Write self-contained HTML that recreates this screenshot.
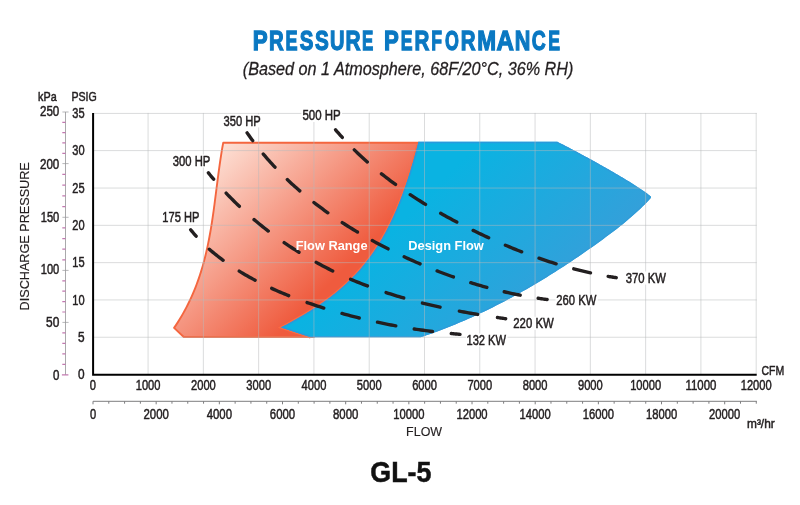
<!DOCTYPE html>
<html><head><meta charset="utf-8"><title>GL-5 Pressure Performance</title>
<style>
html,body{margin:0;padding:0;background:#fff;}
body{width:800px;height:505px;overflow:hidden;}
svg{display:block;}
text{font-family:"Liberation Sans",sans-serif;}
</style></head><body>
<svg width="800" height="505" viewBox="0 0 800 505">
<defs>
<linearGradient id="gr" gradientUnits="userSpaceOnUse" x1="183" y1="183" x2="306.5" y2="306.5">
<stop offset="0" stop-color="#fde1d6"/><stop offset="1" stop-color="#ef5b3e"/>
</linearGradient>
<linearGradient id="gb" gradientUnits="userSpaceOnUse" x1="311" y1="311" x2="424" y2="424">
<stop offset="0" stop-color="#0ab3e2"/><stop offset="1" stop-color="#33a0da"/>
</linearGradient>
<linearGradient id="gbs" gradientUnits="userSpaceOnUse" x1="311" y1="311" x2="424" y2="424">
<stop offset="0" stop-color="#2899dc"/><stop offset="1" stop-color="#319cd8"/>
</linearGradient>
</defs>
<rect width="800" height="505" fill="#ffffff"/>
<path d="M223.20,142.80 L419.00,142.80 L422.50,145.50 L420.97,147.59 L420.19,150.50 L419.39,153.41 L418.59,156.32 L417.76,159.24 L416.93,162.16 L416.07,165.08 L415.20,168.00 L414.32,170.91 L413.41,173.83 L412.49,176.75 L411.55,179.66 L410.59,182.57 L409.61,185.47 L408.60,188.37 L407.58,191.25 L406.53,194.14 L405.46,197.01 L404.37,199.87 L403.25,202.73 L402.10,205.57 L400.93,208.40 L399.73,211.22 L398.51,214.02 L397.25,216.81 L395.97,219.58 L394.66,222.34 L393.31,225.08 L391.94,227.80 L390.54,230.50 L389.10,233.18 L387.63,235.84 L386.12,238.48 L384.58,241.10 L383.00,243.69 L381.39,246.26 L379.75,248.80 L378.06,251.31 L376.34,253.80 L374.57,256.27 L372.77,258.70 L370.93,261.10 L369.05,263.47 L367.13,265.82 L365.18,268.13 L363.19,270.42 L361.16,272.67 L359.10,274.89 L357.00,277.08 L354.87,279.24 L352.70,281.37 L350.50,283.46 L348.27,285.52 L346.01,287.55 L343.72,289.55 L341.39,291.52 L339.04,293.45 L336.66,295.34 L334.25,297.21 L331.81,299.04 L329.35,300.83 L326.86,302.59 L324.35,304.33 L321.82,306.03 L319.27,307.70 L316.70,309.35 L314.11,310.97 L311.50,312.57 L308.89,314.15 L306.26,315.70 L303.62,317.23 L300.97,318.74 L298.32,320.24 L295.66,321.72 L293.00,323.18 L290.33,324.63 L287.66,326.07 L285.00,327.50 L314,337.0 L183.75,337.0 L174.10,327.90 L175.96,325.14 L177.76,322.36 L179.51,319.56 L181.21,316.73 L182.86,313.87 L184.46,311.00 L186.01,308.10 L187.51,305.19 L188.96,302.25 L190.36,299.29 L191.72,296.32 L193.03,293.32 L194.29,290.31 L195.51,287.28 L196.68,284.24 L197.81,281.18 L198.89,278.10 L199.93,275.01 L200.93,271.91 L201.88,268.79 L202.80,265.66 L203.67,262.51 L204.51,259.36 L205.30,256.19 L206.07,253.02 L206.80,249.83 L207.50,246.64 L208.16,243.43 L208.80,240.22 L209.42,237.00 L210.01,233.78 L210.57,230.54 L211.11,227.30 L211.64,224.06 L212.14,220.81 L212.63,217.56 L213.10,214.30 L213.57,211.04 L214.01,207.77 L214.45,204.51 L214.89,201.24 L215.31,197.97 L215.73,194.71 L216.15,191.44 L216.56,188.17 L216.98,184.90 L217.40,181.64 L217.82,178.38 L218.25,175.12 L218.68,171.86 L219.13,168.61 L219.58,165.36 L220.05,162.12 L220.53,158.88 L221.03,155.65 L221.54,152.43 L222.07,149.21 L222.62,146.00 L223.20,142.80 Z" fill="url(#gr)" stroke="#f4663f" stroke-width="1.9" stroke-linejoin="round"/>
<path d="M417.74,144.69 L416.97,147.59 L416.19,150.50 L415.39,153.41 L414.59,156.32 L413.76,159.24 L412.93,162.16 L412.07,165.08 L411.20,168.00 L410.32,170.91 L409.41,173.83 L408.49,176.75 L407.55,179.66 L406.59,182.57 L405.61,185.47 L404.60,188.37 L403.58,191.25 L402.53,194.14 L401.46,197.01 L400.37,199.87 L399.25,202.73 L398.10,205.57 L396.93,208.40 L395.73,211.22 L394.51,214.02 L393.25,216.81 L391.97,219.58 L390.66,222.34 L389.31,225.08 L387.94,227.80 L386.54,230.50 L385.10,233.18 L383.63,235.84 L382.12,238.48 L380.58,241.10 L379.00,243.69 L377.39,246.26 L375.75,248.80 L374.06,251.31 L372.34,253.80 L370.57,256.27 L368.77,258.70 L366.93,261.10 L365.05,263.47 L363.13,265.82 L361.18,268.13 L359.19,270.42 L357.16,272.67 L355.10,274.89 L353.00,277.08 L350.87,279.24 L348.70,281.37 L346.50,283.46 L344.27,285.52 L342.01,287.55 L339.72,289.55 L337.39,291.52 L335.04,293.45 L332.66,295.34 L330.25,297.21 L327.81,299.04 L325.35,300.83 L322.86,302.59 L320.35,304.33 L317.82,306.03 L315.27,307.70 L312.70,309.35 L310.11,310.97 L307.50,312.57 L304.89,314.15 L302.26,315.70 L299.62,317.23 L296.97,318.74 L294.32,320.24 L291.66,321.72 L289.00,323.18 L286.33,324.63 L283.66,326.07 L281.00,327.50 L310.5,337.3" fill="none" stroke="#fb6a43" stroke-width="2.6"/>
<clipPath id="cb"><path d="M418.50,141.80 L557.40,141.80 L559.02,142.63 L560.63,143.45 L562.24,144.28 L563.85,145.11 L565.46,145.95 L567.07,146.78 L568.68,147.62 L570.28,148.46 L571.89,149.30 L573.49,150.15 L575.09,151.00 L576.69,151.85 L578.29,152.70 L579.89,153.55 L581.48,154.41 L583.08,155.27 L584.67,156.13 L586.26,156.99 L587.85,157.86 L589.44,158.73 L591.03,159.60 L592.61,160.47 L594.20,161.35 L595.78,162.23 L597.36,163.11 L598.94,163.99 L600.52,164.88 L602.10,165.77 L603.68,166.66 L605.25,167.56 L606.82,168.45 L608.40,169.36 L609.97,170.26 L611.54,171.16 L613.10,172.07 L614.67,172.99 L616.24,173.90 L617.80,174.82 L619.36,175.74 L620.92,176.66 L622.48,177.59 L624.04,178.52 L625.59,179.46 L627.15,180.40 L628.69,181.34 L630.24,182.29 L631.78,183.25 L633.31,184.21 L634.84,185.19 L636.36,186.16 L637.88,187.15 L639.39,188.14 L640.90,189.15 L642.40,190.16 L643.89,191.18 L645.36,192.21 L646.82,193.28 L648.24,194.40 L649.60,195.60 Q651.00,196.40 651.00,197.20 Q651.00,197.90 649.90,198.90 L649.90,198.90 L647.57,201.42 L645.19,203.89 L642.78,206.31 L640.34,208.70 L637.86,211.04 L635.34,213.35 L632.80,215.62 L630.23,217.86 L627.63,220.07 L625.01,222.25 L622.36,224.40 L619.69,226.53 L617.01,228.63 L614.31,230.72 L611.59,232.78 L608.86,234.83 L606.11,236.87 L603.36,238.89 L600.60,240.90 L597.83,242.91 L595.05,244.90 L592.26,246.89 L589.47,248.86 L586.67,250.83 L583.86,252.78 L581.05,254.73 L578.23,256.66 L575.39,258.58 L572.56,260.49 L569.71,262.39 L566.86,264.28 L564.00,266.16 L561.13,268.02 L558.25,269.87 L555.37,271.71 L552.47,273.54 L549.57,275.36 L546.67,277.16 L543.75,278.95 L540.83,280.72 L537.90,282.48 L534.96,284.23 L532.02,285.96 L529.06,287.68 L526.10,289.39 L523.13,291.08 L520.16,292.75 L517.17,294.42 L514.18,296.06 L511.18,297.69 L508.17,299.31 L505.16,300.90 L502.13,302.49 L499.10,304.05 L496.06,305.60 L493.01,307.14 L489.95,308.65 L486.89,310.15 L483.81,311.63 L480.73,313.10 L477.64,314.54 L474.54,315.97 L471.43,317.38 L468.31,318.77 L465.19,320.15 L462.05,321.50 L458.91,322.84 L455.76,324.15 L452.60,325.45 L449.43,326.73 L446.25,327.98 L443.07,329.22 L439.87,330.44 L436.66,331.63 L433.45,332.81 L430.23,333.96 L426.99,335.10 L423.75,336.21 L420.50,337.30 L310.5,337.3 L281.00,327.50 L283.66,326.07 L286.33,324.63 L289.00,323.18 L291.66,321.72 L294.32,320.24 L296.97,318.74 L299.62,317.23 L302.26,315.70 L304.89,314.15 L307.50,312.57 L310.11,310.97 L312.70,309.35 L315.27,307.70 L317.82,306.03 L320.35,304.33 L322.86,302.59 L325.35,300.83 L327.81,299.04 L330.25,297.21 L332.66,295.34 L335.04,293.45 L337.39,291.52 L339.72,289.55 L342.01,287.55 L344.27,285.52 L346.50,283.46 L348.70,281.37 L350.87,279.24 L353.00,277.08 L355.10,274.89 L357.16,272.67 L359.19,270.42 L361.18,268.13 L363.13,265.82 L365.05,263.47 L366.93,261.10 L368.77,258.70 L370.57,256.27 L372.34,253.80 L374.06,251.31 L375.75,248.80 L377.39,246.26 L379.00,243.69 L380.58,241.10 L382.12,238.48 L383.63,235.84 L385.10,233.18 L386.54,230.50 L387.94,227.80 L389.31,225.08 L390.66,222.34 L391.97,219.58 L393.25,216.81 L394.51,214.02 L395.73,211.22 L396.93,208.40 L398.10,205.57 L399.25,202.73 L400.37,199.87 L401.46,197.01 L402.53,194.14 L403.58,191.25 L404.60,188.37 L405.61,185.47 L406.59,182.57 L407.55,179.66 L408.49,176.75 L409.41,173.83 L410.32,170.91 L411.20,168.00 L412.07,165.08 L412.93,162.16 L413.76,159.24 L414.59,156.32 L415.39,153.41 L416.19,150.50 L416.97,147.59 L417.74,144.69 L418.50,141.80 Z"/></clipPath>
<path d="M418.50,141.80 L557.40,141.80 L559.02,142.63 L560.63,143.45 L562.24,144.28 L563.85,145.11 L565.46,145.95 L567.07,146.78 L568.68,147.62 L570.28,148.46 L571.89,149.30 L573.49,150.15 L575.09,151.00 L576.69,151.85 L578.29,152.70 L579.89,153.55 L581.48,154.41 L583.08,155.27 L584.67,156.13 L586.26,156.99 L587.85,157.86 L589.44,158.73 L591.03,159.60 L592.61,160.47 L594.20,161.35 L595.78,162.23 L597.36,163.11 L598.94,163.99 L600.52,164.88 L602.10,165.77 L603.68,166.66 L605.25,167.56 L606.82,168.45 L608.40,169.36 L609.97,170.26 L611.54,171.16 L613.10,172.07 L614.67,172.99 L616.24,173.90 L617.80,174.82 L619.36,175.74 L620.92,176.66 L622.48,177.59 L624.04,178.52 L625.59,179.46 L627.15,180.40 L628.69,181.34 L630.24,182.29 L631.78,183.25 L633.31,184.21 L634.84,185.19 L636.36,186.16 L637.88,187.15 L639.39,188.14 L640.90,189.15 L642.40,190.16 L643.89,191.18 L645.36,192.21 L646.82,193.28 L648.24,194.40 L649.60,195.60 Q651.00,196.40 651.00,197.20 Q651.00,197.90 649.90,198.90 L649.90,198.90 L647.57,201.42 L645.19,203.89 L642.78,206.31 L640.34,208.70 L637.86,211.04 L635.34,213.35 L632.80,215.62 L630.23,217.86 L627.63,220.07 L625.01,222.25 L622.36,224.40 L619.69,226.53 L617.01,228.63 L614.31,230.72 L611.59,232.78 L608.86,234.83 L606.11,236.87 L603.36,238.89 L600.60,240.90 L597.83,242.91 L595.05,244.90 L592.26,246.89 L589.47,248.86 L586.67,250.83 L583.86,252.78 L581.05,254.73 L578.23,256.66 L575.39,258.58 L572.56,260.49 L569.71,262.39 L566.86,264.28 L564.00,266.16 L561.13,268.02 L558.25,269.87 L555.37,271.71 L552.47,273.54 L549.57,275.36 L546.67,277.16 L543.75,278.95 L540.83,280.72 L537.90,282.48 L534.96,284.23 L532.02,285.96 L529.06,287.68 L526.10,289.39 L523.13,291.08 L520.16,292.75 L517.17,294.42 L514.18,296.06 L511.18,297.69 L508.17,299.31 L505.16,300.90 L502.13,302.49 L499.10,304.05 L496.06,305.60 L493.01,307.14 L489.95,308.65 L486.89,310.15 L483.81,311.63 L480.73,313.10 L477.64,314.54 L474.54,315.97 L471.43,317.38 L468.31,318.77 L465.19,320.15 L462.05,321.50 L458.91,322.84 L455.76,324.15 L452.60,325.45 L449.43,326.73 L446.25,327.98 L443.07,329.22 L439.87,330.44 L436.66,331.63 L433.45,332.81 L430.23,333.96 L426.99,335.10 L423.75,336.21 L420.50,337.30 L310.5,337.3 L281.00,327.50 L283.66,326.07 L286.33,324.63 L289.00,323.18 L291.66,321.72 L294.32,320.24 L296.97,318.74 L299.62,317.23 L302.26,315.70 L304.89,314.15 L307.50,312.57 L310.11,310.97 L312.70,309.35 L315.27,307.70 L317.82,306.03 L320.35,304.33 L322.86,302.59 L325.35,300.83 L327.81,299.04 L330.25,297.21 L332.66,295.34 L335.04,293.45 L337.39,291.52 L339.72,289.55 L342.01,287.55 L344.27,285.52 L346.50,283.46 L348.70,281.37 L350.87,279.24 L353.00,277.08 L355.10,274.89 L357.16,272.67 L359.19,270.42 L361.18,268.13 L363.13,265.82 L365.05,263.47 L366.93,261.10 L368.77,258.70 L370.57,256.27 L372.34,253.80 L374.06,251.31 L375.75,248.80 L377.39,246.26 L379.00,243.69 L380.58,241.10 L382.12,238.48 L383.63,235.84 L385.10,233.18 L386.54,230.50 L387.94,227.80 L389.31,225.08 L390.66,222.34 L391.97,219.58 L393.25,216.81 L394.51,214.02 L395.73,211.22 L396.93,208.40 L398.10,205.57 L399.25,202.73 L400.37,199.87 L401.46,197.01 L402.53,194.14 L403.58,191.25 L404.60,188.37 L405.61,185.47 L406.59,182.57 L407.55,179.66 L408.49,176.75 L409.41,173.83 L410.32,170.91 L411.20,168.00 L412.07,165.08 L412.93,162.16 L413.76,159.24 L414.59,156.32 L415.39,153.41 L416.19,150.50 L416.97,147.59 L417.74,144.69 L418.50,141.80 Z" fill="url(#gb)"/>
<path d="M418.50,141.80 L557.40,141.80 L559.02,142.63 L560.63,143.45 L562.24,144.28 L563.85,145.11 L565.46,145.95 L567.07,146.78 L568.68,147.62 L570.28,148.46 L571.89,149.30 L573.49,150.15 L575.09,151.00 L576.69,151.85 L578.29,152.70 L579.89,153.55 L581.48,154.41 L583.08,155.27 L584.67,156.13 L586.26,156.99 L587.85,157.86 L589.44,158.73 L591.03,159.60 L592.61,160.47 L594.20,161.35 L595.78,162.23 L597.36,163.11 L598.94,163.99 L600.52,164.88 L602.10,165.77 L603.68,166.66 L605.25,167.56 L606.82,168.45 L608.40,169.36 L609.97,170.26 L611.54,171.16 L613.10,172.07 L614.67,172.99 L616.24,173.90 L617.80,174.82 L619.36,175.74 L620.92,176.66 L622.48,177.59 L624.04,178.52 L625.59,179.46 L627.15,180.40 L628.69,181.34 L630.24,182.29 L631.78,183.25 L633.31,184.21 L634.84,185.19 L636.36,186.16 L637.88,187.15 L639.39,188.14 L640.90,189.15 L642.40,190.16 L643.89,191.18 L645.36,192.21 L646.82,193.28 L648.24,194.40 L649.60,195.60 Q651.00,196.40 651.00,197.20 Q651.00,197.90 649.90,198.90 L649.90,198.90 L647.57,201.42 L645.19,203.89 L642.78,206.31 L640.34,208.70 L637.86,211.04 L635.34,213.35 L632.80,215.62 L630.23,217.86 L627.63,220.07 L625.01,222.25 L622.36,224.40 L619.69,226.53 L617.01,228.63 L614.31,230.72 L611.59,232.78 L608.86,234.83 L606.11,236.87 L603.36,238.89 L600.60,240.90 L597.83,242.91 L595.05,244.90 L592.26,246.89 L589.47,248.86 L586.67,250.83 L583.86,252.78 L581.05,254.73 L578.23,256.66 L575.39,258.58 L572.56,260.49 L569.71,262.39 L566.86,264.28 L564.00,266.16 L561.13,268.02 L558.25,269.87 L555.37,271.71 L552.47,273.54 L549.57,275.36 L546.67,277.16 L543.75,278.95 L540.83,280.72 L537.90,282.48 L534.96,284.23 L532.02,285.96 L529.06,287.68 L526.10,289.39 L523.13,291.08 L520.16,292.75 L517.17,294.42 L514.18,296.06 L511.18,297.69 L508.17,299.31 L505.16,300.90 L502.13,302.49 L499.10,304.05 L496.06,305.60 L493.01,307.14 L489.95,308.65 L486.89,310.15 L483.81,311.63 L480.73,313.10 L477.64,314.54 L474.54,315.97 L471.43,317.38 L468.31,318.77 L465.19,320.15 L462.05,321.50 L458.91,322.84 L455.76,324.15 L452.60,325.45 L449.43,326.73 L446.25,327.98 L443.07,329.22 L439.87,330.44 L436.66,331.63 L433.45,332.81 L430.23,333.96 L426.99,335.10 L423.75,336.21 L420.50,337.30 L310.5,337.3 L281.00,327.50 L283.66,326.07 L286.33,324.63 L289.00,323.18 L291.66,321.72 L294.32,320.24 L296.97,318.74 L299.62,317.23 L302.26,315.70 L304.89,314.15 L307.50,312.57 L310.11,310.97 L312.70,309.35 L315.27,307.70 L317.82,306.03 L320.35,304.33 L322.86,302.59 L325.35,300.83 L327.81,299.04 L330.25,297.21 L332.66,295.34 L335.04,293.45 L337.39,291.52 L339.72,289.55 L342.01,287.55 L344.27,285.52 L346.50,283.46 L348.70,281.37 L350.87,279.24 L353.00,277.08 L355.10,274.89 L357.16,272.67 L359.19,270.42 L361.18,268.13 L363.13,265.82 L365.05,263.47 L366.93,261.10 L368.77,258.70 L370.57,256.27 L372.34,253.80 L374.06,251.31 L375.75,248.80 L377.39,246.26 L379.00,243.69 L380.58,241.10 L382.12,238.48 L383.63,235.84 L385.10,233.18 L386.54,230.50 L387.94,227.80 L389.31,225.08 L390.66,222.34 L391.97,219.58 L393.25,216.81 L394.51,214.02 L395.73,211.22 L396.93,208.40 L398.10,205.57 L399.25,202.73 L400.37,199.87 L401.46,197.01 L402.53,194.14 L403.58,191.25 L404.60,188.37 L405.61,185.47 L406.59,182.57 L407.55,179.66 L408.49,176.75 L409.41,173.83 L410.32,170.91 L411.20,168.00 L412.07,165.08 L412.93,162.16 L413.76,159.24 L414.59,156.32 L415.39,153.41 L416.19,150.50 L416.97,147.59 L417.74,144.69 L418.50,141.80 Z" fill="none" stroke="url(#gbs)" stroke-width="2.8" clip-path="url(#cb)"/>
<path d="M148.08,112.95 V374.55 M203.37,112.95 V374.55 M258.65,112.95 V374.55 M313.93,112.95 V374.55 M369.22,112.95 V374.55 M424.50,112.95 V374.55 M479.78,112.95 V374.55 M535.07,112.95 V374.55 M590.35,112.95 V374.55 M645.63,112.95 V374.55 M700.92,112.95 V374.55 M756.20,112.95 V374.55 M92.80,337.25 H756.70 M92.80,299.95 H756.70 M92.80,262.65 H756.70 M92.80,225.35 H756.70 M92.80,188.05 H756.70 M92.80,150.60 H756.70 M92.80,113.45 H756.70 " stroke="#b8babc" stroke-opacity="0.5" stroke-width="1" fill="none"/>
<path d="M93.1,113 V375.7 M92.1,374.7 H756.7" stroke="#000" stroke-width="2" fill="none"/>
<path d="M190.70,229.79 L191.36,230.60 L192.02,231.41 L192.69,232.21 L193.36,233.00 L194.04,233.79 L194.73,234.57 L195.41,235.35 L196.11,236.12 M209.36,249.21 L211.02,250.66 L212.69,252.10 L214.39,253.51 L216.10,254.90 L217.82,256.28 L219.56,257.63 L221.32,258.97 L223.09,260.29 M239.24,271.15 L241.19,272.34 L243.14,273.51 L245.11,274.66 L247.09,275.80 L249.07,276.92 L251.07,278.03 L253.07,279.12 L255.09,280.19 M271.70,288.37 L273.80,289.33 L275.90,290.27 L278.01,291.19 L280.12,292.11 L282.24,293.01 L284.37,293.89 L286.50,294.77 L288.64,295.63 M307.08,302.54 L309.15,303.26 L311.23,303.97 L313.31,304.67 L315.39,305.36 L317.48,306.05 L319.56,306.72 L321.66,307.39 L323.75,308.05 M342.04,313.47 L344.18,314.06 L346.32,314.64 L348.47,315.22 L350.61,315.79 L352.76,316.35 L354.91,316.90 L357.06,317.44 L359.21,317.98 M377.52,322.21 L379.79,322.70 L382.07,323.18 L384.35,323.64 L386.63,324.10 L388.91,324.55 L391.20,325.00 L393.48,325.43 L395.77,325.86 M414.24,328.97 L416.52,329.32 L418.80,329.66 L421.07,329.98 L423.35,330.30 L425.63,330.62 L427.92,330.92 L430.20,331.22 L432.48,331.50 M451.25,333.55 L452.34,333.66 L453.43,333.76 L454.53,333.86 L455.62,333.95 L456.71,334.05 L457.81,334.14 L458.90,334.23 L459.99,334.32 M208.41,172.90 L209.05,173.69 L209.69,174.48 L210.34,175.26 L210.99,176.05 L211.64,176.83 L212.29,177.61 L212.95,178.38 L213.61,179.16 M226.14,193.11 L227.75,194.80 L229.38,196.49 L231.01,198.16 L232.66,199.82 L234.32,201.47 L235.99,203.10 L237.67,204.73 L239.35,206.34 M254.08,219.58 L255.82,221.05 L257.58,222.52 L259.34,223.97 L261.11,225.41 L262.89,226.83 L264.67,228.25 L266.47,229.66 L268.27,231.05 M284.17,242.61 L286.00,243.86 L287.83,245.09 L289.66,246.32 L291.51,247.53 L293.36,248.73 L295.22,249.92 L297.08,251.10 L298.96,252.27 M316.23,262.38 L318.26,263.49 L320.30,264.59 L322.35,265.68 L324.40,266.76 L326.46,267.82 L328.53,268.87 L330.60,269.91 L332.68,270.94 M350.64,279.19 L352.72,280.08 L354.81,280.95 L356.90,281.81 L359.00,282.67 L361.10,283.51 L363.20,284.34 L365.31,285.15 L367.43,285.96 M386.09,292.55 L388.28,293.27 L390.47,293.97 L392.67,294.67 L394.87,295.35 L397.07,296.03 L399.28,296.69 L401.49,297.34 L403.71,297.99 M422.43,303.04 L424.62,303.59 L426.82,304.13 L429.03,304.66 L431.23,305.18 L433.43,305.70 L435.64,306.21 L437.85,306.71 L440.06,307.20 M459.35,311.16 L461.63,311.60 L463.92,312.02 L466.20,312.44 L468.49,312.86 L470.77,313.26 L473.06,313.66 L475.34,314.05 L477.63,314.44 M497.47,317.54 L498.49,317.69 L499.52,317.84 L500.55,317.98 L501.57,318.13 L502.60,318.27 L503.62,318.42 L504.65,318.56 L505.67,318.70 M247.11,132.85 L247.79,133.84 L248.47,134.81 L249.16,135.79 L249.86,136.76 L250.55,137.72 L251.25,138.69 L251.96,139.65 L252.67,140.60 M263.28,154.04 L264.70,155.72 L266.13,157.39 L267.58,159.05 L269.03,160.70 L270.50,162.33 L271.98,163.96 L273.47,165.57 L274.97,167.18 M287.30,179.57 L288.83,181.02 L290.37,182.45 L291.92,183.88 L293.47,185.30 L295.04,186.71 L296.61,188.10 L298.19,189.49 L299.78,190.87 M313.95,202.48 L315.66,203.80 L317.38,205.11 L319.10,206.41 L320.83,207.70 L322.57,208.99 L324.31,210.26 L326.06,211.53 L327.82,212.78 M342.26,222.59 L344.13,223.80 L346.02,225.00 L347.91,226.20 L349.80,227.38 L351.70,228.56 L353.61,229.73 L355.52,230.89 L357.44,232.04 M372.33,240.56 L374.28,241.63 L376.23,242.69 L378.18,243.74 L380.14,244.78 L382.10,245.81 L384.07,246.84 L386.04,247.85 L388.02,248.86 M404.21,256.78 L406.18,257.70 L408.15,258.62 L410.13,259.52 L412.11,260.42 L414.10,261.31 L416.09,262.19 L418.08,263.06 L420.07,263.92 M437.13,270.93 L439.16,271.72 L441.19,272.49 L443.22,273.26 L445.25,274.02 L447.28,274.77 L449.32,275.51 L451.37,276.24 L453.41,276.97 M470.82,282.73 L472.82,283.34 L474.81,283.95 L476.82,284.55 L478.82,285.14 L480.83,285.72 L482.84,286.29 L484.85,286.85 L486.86,287.40 M504.24,291.78 L506.23,292.23 L508.22,292.68 L510.21,293.12 L512.21,293.55 L514.21,293.97 L516.21,294.38 L518.21,294.78 L520.21,295.17 M538.17,298.26 L539.28,298.42 L540.40,298.59 L541.52,298.75 L542.63,298.91 L543.75,299.06 L544.87,299.21 L545.99,299.36 L547.11,299.51 M335.60,129.90 L336.42,130.85 L337.25,131.80 L338.07,132.74 L338.90,133.68 L339.74,134.62 L340.58,135.55 L341.42,136.48 L342.26,137.41 M354.30,149.85 L355.90,151.40 L357.50,152.94 L359.11,154.47 L360.73,155.98 L362.36,157.49 L364.00,158.98 L365.65,160.46 L367.31,161.94 M381.50,173.81 L383.22,175.18 L384.95,176.53 L386.69,177.87 L388.44,179.21 L390.20,180.53 L391.96,181.85 L393.73,183.16 L395.51,184.45 M410.23,194.67 L412.12,195.92 L414.01,197.15 L415.92,198.38 L417.82,199.60 L419.74,200.81 L421.65,202.02 L423.58,203.21 L425.51,204.40 M440.70,213.32 L442.69,214.45 L444.69,215.56 L446.69,216.67 L448.70,217.76 L450.70,218.85 L452.72,219.94 L454.74,221.01 L456.76,222.08 M473.12,230.40 L475.05,231.34 L476.98,232.28 L478.92,233.21 L480.86,234.14 L482.80,235.06 L484.74,235.97 L486.69,236.88 L488.63,237.78 M505.39,245.20 L507.41,246.05 L509.43,246.90 L511.46,247.74 L513.49,248.57 L515.52,249.39 L517.56,250.21 L519.60,251.01 L521.64,251.81 M538.99,258.21 L541.12,258.94 L543.25,259.67 L545.39,260.38 L547.52,261.09 L549.66,261.79 L551.81,262.47 L553.95,263.15 L556.10,263.81 M573.77,268.85 L575.84,269.39 L577.93,269.92 L580.01,270.44 L582.10,270.95 L584.19,271.45 L586.28,271.94 L588.38,272.42 L590.48,272.89 M608.19,276.37 L609.19,276.55 L610.20,276.72 L611.20,276.88 L612.20,277.05 L613.21,277.21 L614.21,277.37 L615.21,277.52 L616.22,277.68 " stroke="#231f20" stroke-width="3.4" stroke-linecap="round" fill="none"/>
<path d="M65.5,112 V374.85" stroke="#a9a9ab" stroke-width="1" fill="none"/>
<path d="M62.4,322.40 H68.6 M62.4,270.40 H68.6 M62.4,217.30 H68.6 M62.4,163.60 H68.6 M62.4,112.00 H68.6 " stroke="#9a9a9c" stroke-width="0.7" fill="none"/>
<path d="M62.3,364.36 H65.5 M62.3,353.87 H65.5 M62.3,343.38 H65.5 M62.3,332.89 H65.5 M62.3,312.00 H65.5 M62.3,301.60 H65.5 M62.3,291.20 H65.5 M62.3,280.80 H65.5 M62.3,259.78 H65.5 M62.3,249.16 H65.5 M62.3,238.54 H65.5 M62.3,227.92 H65.5 M62.3,206.56 H65.5 M62.3,195.82 H65.5 M62.3,185.08 H65.5 M62.3,174.34 H65.5 M62.3,153.28 H65.5 M62.3,142.96 H65.5 M62.3,132.64 H65.5 M62.3,122.32 H65.5  M61.9,374.85 H68.4" stroke="#c279b0" stroke-width="1.2" fill="none"/>
<path d="M93,401.3 H756.9" stroke="#7d7d7f" stroke-width="1" fill="none"/>
<path d="M93.00,401.3 v3.0 M108.79,401.3 v2.4 M124.59,401.3 v2.4 M140.38,401.3 v2.4 M156.17,401.3 v3.0 M171.96,401.3 v2.4 M187.75,401.3 v2.4 M203.55,401.3 v2.4 M219.34,401.3 v3.0 M235.13,401.3 v2.4 M250.93,401.3 v2.4 M266.72,401.3 v2.4 M282.51,401.3 v3.0 M298.30,401.3 v2.4 M314.10,401.3 v2.4 M329.89,401.3 v2.4 M345.68,401.3 v3.0 M361.47,401.3 v2.4 M377.26,401.3 v2.4 M393.06,401.3 v2.4 M408.85,401.3 v3.0 M424.64,401.3 v2.4 M440.44,401.3 v2.4 M456.23,401.3 v2.4 M472.02,401.3 v3.0 M487.81,401.3 v2.4 M503.61,401.3 v2.4 M519.40,401.3 v2.4 M535.19,401.3 v3.0 M550.98,401.3 v2.4 M566.77,401.3 v2.4 M582.57,401.3 v2.4 M598.36,401.3 v3.0 M614.15,401.3 v2.4 M629.95,401.3 v2.4 M645.74,401.3 v2.4 M661.53,401.3 v3.0 M677.32,401.3 v2.4 M693.12,401.3 v2.4 M708.91,401.3 v2.4 M724.70,401.3 v3.0 M740.49,401.3 v2.4 M756.28,401.3 v2.4 " stroke="#7d7d7f" stroke-width="1" fill="none"/>
<text y="50.2" font-size="27.7" font-weight="bold" fill="#0a78c2" stroke="#0a78c2" stroke-width="1.3" stroke-linejoin="miter"><tspan x="252.80" textLength="14.91" lengthAdjust="spacingAndGlyphs">P</tspan><tspan x="268.94" textLength="14.68" lengthAdjust="spacingAndGlyphs">R</tspan><tspan x="285.59" textLength="12.07" lengthAdjust="spacingAndGlyphs">E</tspan><tspan x="299.71" textLength="13.64" lengthAdjust="spacingAndGlyphs">S</tspan><tspan x="314.95" textLength="13.80" lengthAdjust="spacingAndGlyphs">S</tspan><tspan x="329.95" textLength="14.48" lengthAdjust="spacingAndGlyphs">U</tspan><tspan x="345.40" textLength="15.07" lengthAdjust="spacingAndGlyphs">R</tspan><tspan x="361.92" textLength="11.29" lengthAdjust="spacingAndGlyphs">E</tspan><tspan x="374.5" textLength="8" lengthAdjust="spacingAndGlyphs"> </tspan><tspan x="383.92" textLength="14.79" lengthAdjust="spacingAndGlyphs">P</tspan><tspan x="400.87" textLength="11.77" lengthAdjust="spacingAndGlyphs">E</tspan><tspan x="414.42" textLength="14.85" lengthAdjust="spacingAndGlyphs">R</tspan><tspan x="431.28" textLength="10.72" lengthAdjust="spacingAndGlyphs">F</tspan><tspan x="445.07" textLength="13.88" lengthAdjust="spacingAndGlyphs">O</tspan><tspan x="460.68" textLength="14.79" lengthAdjust="spacingAndGlyphs">R</tspan><tspan x="477.14" textLength="18.82" lengthAdjust="spacingAndGlyphs">M</tspan><tspan x="496.45" textLength="17.38" lengthAdjust="spacingAndGlyphs">A</tspan><tspan x="514.70" textLength="15.60" lengthAdjust="spacingAndGlyphs">N</tspan><tspan x="531.66" textLength="13.92" lengthAdjust="spacingAndGlyphs">C</tspan><tspan x="548.37" textLength="11.77" lengthAdjust="spacingAndGlyphs">E</tspan></text>
<text x="242.80" y="75.30" font-size="19.00" font-weight="normal" font-style="italic" fill="#231f20" textLength="330.50" lengthAdjust="spacingAndGlyphs" stroke="#231f20" stroke-width="0.3">(Based on 1 Atmosphere, 68F/20°C, 36% RH)</text>
<text x="38.10" y="101.40" font-size="12.90" font-weight="normal" font-style="normal" fill="#231f20" textLength="18.60" lengthAdjust="spacingAndGlyphs" stroke="#231f20" stroke-width="0.5">kPa</text>
<text x="71.40" y="101.00" font-size="13.20" font-weight="normal" font-style="normal" fill="#231f20" textLength="25.35" lengthAdjust="spacingAndGlyphs" stroke="#231f20" stroke-width="0.5">PSIG</text>
<text x="39.95" y="116.00" font-size="14.00" font-weight="normal" font-style="normal" fill="#231f20" textLength="19.35" lengthAdjust="spacingAndGlyphs" stroke="#231f20" stroke-width="0.5">250</text>
<text x="39.95" y="169.17" font-size="14.00" font-weight="normal" font-style="normal" fill="#231f20" textLength="19.35" lengthAdjust="spacingAndGlyphs" stroke="#231f20" stroke-width="0.5">200</text>
<text x="40.70" y="221.74" font-size="14.00" font-weight="normal" font-style="normal" fill="#231f20" textLength="18.60" lengthAdjust="spacingAndGlyphs" stroke="#231f20" stroke-width="0.5">150</text>
<text x="40.70" y="274.31" font-size="14.00" font-weight="normal" font-style="normal" fill="#231f20" textLength="18.60" lengthAdjust="spacingAndGlyphs" stroke="#231f20" stroke-width="0.5">100</text>
<text x="46.00" y="326.88" font-size="14.00" font-weight="normal" font-style="normal" fill="#231f20" textLength="13.30" lengthAdjust="spacingAndGlyphs" stroke="#231f20" stroke-width="0.5">50</text>
<text x="52.90" y="379.80" font-size="14.00" font-weight="normal" font-style="normal" fill="#231f20" textLength="6.40" lengthAdjust="spacingAndGlyphs" stroke="#231f20" stroke-width="0.5">0</text>
<text x="78.00" y="379.40" font-size="14.00" font-weight="normal" font-style="normal" fill="#231f20" textLength="6.60" lengthAdjust="spacingAndGlyphs" stroke="#231f20" stroke-width="0.5">0</text>
<text x="78.00" y="342.03" font-size="14.00" font-weight="normal" font-style="normal" fill="#231f20" textLength="6.60" lengthAdjust="spacingAndGlyphs" stroke="#231f20" stroke-width="0.5">5</text>
<text x="72.30" y="304.66" font-size="14.00" font-weight="normal" font-style="normal" fill="#231f20" textLength="12.30" lengthAdjust="spacingAndGlyphs" stroke="#231f20" stroke-width="0.5">10</text>
<text x="72.30" y="267.29" font-size="14.00" font-weight="normal" font-style="normal" fill="#231f20" textLength="12.30" lengthAdjust="spacingAndGlyphs" stroke="#231f20" stroke-width="0.5">15</text>
<text x="72.30" y="229.91" font-size="14.00" font-weight="normal" font-style="normal" fill="#231f20" textLength="12.30" lengthAdjust="spacingAndGlyphs" stroke="#231f20" stroke-width="0.5">20</text>
<text x="72.30" y="192.54" font-size="14.00" font-weight="normal" font-style="normal" fill="#231f20" textLength="12.30" lengthAdjust="spacingAndGlyphs" stroke="#231f20" stroke-width="0.5">25</text>
<text x="72.30" y="155.17" font-size="14.00" font-weight="normal" font-style="normal" fill="#231f20" textLength="12.30" lengthAdjust="spacingAndGlyphs" stroke="#231f20" stroke-width="0.5">30</text>
<text x="72.30" y="117.80" font-size="14.00" font-weight="normal" font-style="normal" fill="#231f20" textLength="12.30" lengthAdjust="spacingAndGlyphs" stroke="#231f20" stroke-width="0.5">35</text>
<text x="89.75" y="390.00" font-size="14.00" font-weight="normal" font-style="normal" fill="#231f20" textLength="6.20" lengthAdjust="spacingAndGlyphs" stroke="#231f20" stroke-width="0.5">0</text>
<text x="135.73" y="390.00" font-size="14.00" font-weight="normal" font-style="normal" fill="#231f20" textLength="24.80" lengthAdjust="spacingAndGlyphs" stroke="#231f20" stroke-width="0.5">1000</text>
<text x="191.01" y="390.00" font-size="14.00" font-weight="normal" font-style="normal" fill="#231f20" textLength="24.80" lengthAdjust="spacingAndGlyphs" stroke="#231f20" stroke-width="0.5">2000</text>
<text x="246.29" y="390.00" font-size="14.00" font-weight="normal" font-style="normal" fill="#231f20" textLength="24.80" lengthAdjust="spacingAndGlyphs" stroke="#231f20" stroke-width="0.5">3000</text>
<text x="301.57" y="390.00" font-size="14.00" font-weight="normal" font-style="normal" fill="#231f20" textLength="24.80" lengthAdjust="spacingAndGlyphs" stroke="#231f20" stroke-width="0.5">4000</text>
<text x="356.85" y="390.00" font-size="14.00" font-weight="normal" font-style="normal" fill="#231f20" textLength="24.80" lengthAdjust="spacingAndGlyphs" stroke="#231f20" stroke-width="0.5">5000</text>
<text x="412.13" y="390.00" font-size="14.00" font-weight="normal" font-style="normal" fill="#231f20" textLength="24.80" lengthAdjust="spacingAndGlyphs" stroke="#231f20" stroke-width="0.5">6000</text>
<text x="467.41" y="390.00" font-size="14.00" font-weight="normal" font-style="normal" fill="#231f20" textLength="24.80" lengthAdjust="spacingAndGlyphs" stroke="#231f20" stroke-width="0.5">7000</text>
<text x="522.69" y="390.00" font-size="14.00" font-weight="normal" font-style="normal" fill="#231f20" textLength="24.80" lengthAdjust="spacingAndGlyphs" stroke="#231f20" stroke-width="0.5">8000</text>
<text x="577.97" y="390.00" font-size="14.00" font-weight="normal" font-style="normal" fill="#231f20" textLength="24.80" lengthAdjust="spacingAndGlyphs" stroke="#231f20" stroke-width="0.5">9000</text>
<text x="630.15" y="390.00" font-size="14.00" font-weight="normal" font-style="normal" fill="#231f20" textLength="31.00" lengthAdjust="spacingAndGlyphs" stroke="#231f20" stroke-width="0.5">10000</text>
<text x="685.43" y="390.00" font-size="14.00" font-weight="normal" font-style="normal" fill="#231f20" textLength="31.00" lengthAdjust="spacingAndGlyphs" stroke="#231f20" stroke-width="0.5">11000</text>
<text x="740.71" y="390.00" font-size="14.00" font-weight="normal" font-style="normal" fill="#231f20" textLength="31.00" lengthAdjust="spacingAndGlyphs" stroke="#231f20" stroke-width="0.5">12000</text>
<text x="89.90" y="418.80" font-size="14.00" font-weight="normal" font-style="normal" fill="#231f20" textLength="6.20" lengthAdjust="spacingAndGlyphs" stroke="#231f20" stroke-width="0.5">0</text>
<text x="143.47" y="418.80" font-size="14.00" font-weight="normal" font-style="normal" fill="#231f20" textLength="25.40" lengthAdjust="spacingAndGlyphs" stroke="#231f20" stroke-width="0.5">2000</text>
<text x="206.64" y="418.80" font-size="14.00" font-weight="normal" font-style="normal" fill="#231f20" textLength="25.40" lengthAdjust="spacingAndGlyphs" stroke="#231f20" stroke-width="0.5">4000</text>
<text x="269.81" y="418.80" font-size="14.00" font-weight="normal" font-style="normal" fill="#231f20" textLength="25.40" lengthAdjust="spacingAndGlyphs" stroke="#231f20" stroke-width="0.5">6000</text>
<text x="332.98" y="418.80" font-size="14.00" font-weight="normal" font-style="normal" fill="#231f20" textLength="25.40" lengthAdjust="spacingAndGlyphs" stroke="#231f20" stroke-width="0.5">8000</text>
<text x="393.25" y="418.80" font-size="14.00" font-weight="normal" font-style="normal" fill="#231f20" textLength="31.20" lengthAdjust="spacingAndGlyphs" stroke="#231f20" stroke-width="0.5">10000</text>
<text x="456.42" y="418.80" font-size="14.00" font-weight="normal" font-style="normal" fill="#231f20" textLength="31.20" lengthAdjust="spacingAndGlyphs" stroke="#231f20" stroke-width="0.5">12000</text>
<text x="519.59" y="418.80" font-size="14.00" font-weight="normal" font-style="normal" fill="#231f20" textLength="31.20" lengthAdjust="spacingAndGlyphs" stroke="#231f20" stroke-width="0.5">14000</text>
<text x="582.76" y="418.80" font-size="14.00" font-weight="normal" font-style="normal" fill="#231f20" textLength="31.20" lengthAdjust="spacingAndGlyphs" stroke="#231f20" stroke-width="0.5">16000</text>
<text x="645.93" y="418.80" font-size="14.00" font-weight="normal" font-style="normal" fill="#231f20" textLength="31.20" lengthAdjust="spacingAndGlyphs" stroke="#231f20" stroke-width="0.5">18000</text>
<text x="709.10" y="418.80" font-size="14.00" font-weight="normal" font-style="normal" fill="#231f20" textLength="31.20" lengthAdjust="spacingAndGlyphs" stroke="#231f20" stroke-width="0.5">20000</text>
<text x="761.50" y="374.50" font-size="13.60" font-weight="normal" font-style="normal" fill="#231f20" textLength="22.75" lengthAdjust="spacingAndGlyphs" stroke="#231f20" stroke-width="0.5">CFM</text>
<text x="747.00" y="427.70" font-size="12.80" font-weight="normal" font-style="normal" fill="#231f20" textLength="27.75" lengthAdjust="spacingAndGlyphs" stroke="#231f20" stroke-width="0.5">m³/hr</text>
<text x="406.10" y="436.20" font-size="12.90" font-weight="normal" font-style="normal" fill="#231f20" textLength="36.00" lengthAdjust="spacingAndGlyphs" stroke="#231f20" stroke-width="0.15">FLOW</text>
<text x="370.30" y="482.00" font-size="29.30" font-weight="bold" font-style="normal" fill="#111111" textLength="61.10" lengthAdjust="spacingAndGlyphs" stroke="#111111" stroke-width="0.5">GL-5</text>
<rect x="222.5" y="114.4" width="39.5" height="13.0" fill="#fff"/>
<rect x="301.3" y="109.0" width="40.7" height="13.0" fill="#fff"/>
<rect x="171.6" y="154.5" width="40.2" height="13.0" fill="#fff"/>
<rect x="161.6" y="211.4" width="39.2" height="13.0" fill="#fff"/>
<rect x="625.0" y="271.5" width="42.5" height="13.0" fill="#fff"/>
<rect x="555.5" y="294.0" width="42.2" height="13.0" fill="#fff"/>
<rect x="512.5" y="316.8" width="42.7" height="13.0" fill="#fff"/>
<rect x="465.8" y="333.5" width="41.7" height="13.0" fill="#fff"/>
<text x="223.50" y="125.90" font-size="14.00" font-weight="normal" font-style="normal" fill="#231f20" textLength="37.20" lengthAdjust="spacingAndGlyphs" stroke="#231f20" stroke-width="0.5">350 HP</text>
<text x="302.40" y="119.70" font-size="14.00" font-weight="normal" font-style="normal" fill="#231f20" textLength="38.30" lengthAdjust="spacingAndGlyphs" stroke="#231f20" stroke-width="0.5">500 HP</text>
<text x="172.70" y="165.50" font-size="14.00" font-weight="normal" font-style="normal" fill="#231f20" textLength="37.60" lengthAdjust="spacingAndGlyphs" stroke="#231f20" stroke-width="0.5">300 HP</text>
<text x="162.30" y="222.40" font-size="14.00" font-weight="normal" font-style="normal" fill="#231f20" textLength="37.00" lengthAdjust="spacingAndGlyphs" stroke="#231f20" stroke-width="0.5">175 HP</text>
<text x="625.75" y="282.50" font-size="14.00" font-weight="normal" font-style="normal" fill="#231f20" textLength="40.25" lengthAdjust="spacingAndGlyphs" stroke="#231f20" stroke-width="0.5">370 KW</text>
<text x="556.25" y="305.00" font-size="14.00" font-weight="normal" font-style="normal" fill="#231f20" textLength="40.00" lengthAdjust="spacingAndGlyphs" stroke="#231f20" stroke-width="0.5">260 KW</text>
<text x="513.25" y="327.75" font-size="14.00" font-weight="normal" font-style="normal" fill="#231f20" textLength="40.50" lengthAdjust="spacingAndGlyphs" stroke="#231f20" stroke-width="0.5">220 KW</text>
<text x="466.50" y="344.50" font-size="14.00" font-weight="normal" font-style="normal" fill="#231f20" textLength="39.50" lengthAdjust="spacingAndGlyphs" stroke="#231f20" stroke-width="0.5">132 KW</text>
<text x="295.75" y="250.20" font-size="12.90" font-weight="bold" font-style="normal" fill="#ffffff" textLength="71.75" lengthAdjust="spacingAndGlyphs">Flow Range</text>
<text x="408.25" y="250.10" font-size="12.90" font-weight="bold" font-style="normal" fill="#ffffff" textLength="75.50" lengthAdjust="spacingAndGlyphs">Design Flow</text>
<text transform="translate(29.1,310.4) rotate(-90)" x="0" y="0" font-size="13.2" fill="#231f20" stroke="#231f20" stroke-width="0.15" textLength="148.2" lengthAdjust="spacingAndGlyphs">DISCHARGE PRESSURE</text>
</svg>
</body></html>
